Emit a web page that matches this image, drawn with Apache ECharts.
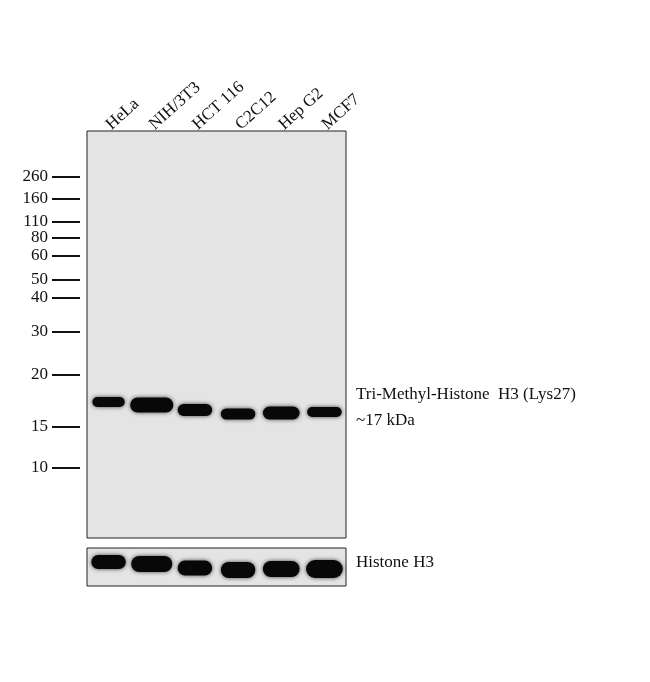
<!DOCTYPE html>
<html>
<head>
<meta charset="utf-8">
<title>Tri-Methyl-Histone H3 (Lys27)</title>
<script src="https://cdn.jsdelivr.net/npm/echarts@6/dist/echarts.min.js"></script>
<style>
  body { margin: 0; background: #fff; }
  #blot { width: 650px; height: 682px; }
</style>
</head>
<body>
<div id="blot"></div>
<script>
// lanes and marker ladder
var lanes = ['HeLa', 'NIH/3T3', 'HCT 116', 'C2C12', 'Hep G2', 'MCF7'];
var markerLabels = ['260', '160', '110', '80', '60', '50', '40', '30', '20', '15', '10'];
// migration distance from top of membrane (panel units)
var markerPos = [46, 68, 91, 107, 125, 149, 167, 201, 244, 296, 337];

// main bands: migration position, width, thickness
var bandPos = [271, 274, 279, 283, 282, 281];
var bandWidth = [0.75, 1.0, 0.8, 0.8, 0.85, 0.8];
var bandThick = [10, 15, 12, 11, 13, 10];

// loading control (Histone H3)
var h3Pos = [14, 16, 20, 22, 21, 21];
var h3Width = [0.8, 0.95, 0.8, 0.8, 0.85, 0.85];
var h3Thick = [14, 16, 15, 16, 16, 18];

var serif = 'Liberation Serif';
var chart = echarts.init(document.getElementById('blot'));

function bandData(pos, w, t) {
  return lanes.map(function (n, i) { return [i, pos[i], w[i], t[i]]; });
}

function drawBand(params, api) {
  var c = api.coord([api.value(0), api.value(1)]);
  var unit = api.size([1, 0])[0];
  var w = api.value(2) * unit;
  var h = api.value(3);
  return {
    type: 'rect',
    shape: { x: c[0] - w / 2, y: c[1] - h / 2, width: w, height: h, r: h / 2 },
    style: { fill: '#080808', shadowBlur: 4, shadowColor: 'rgba(0,0,0,0.7)' }
  };
}

chart.setOption({
  animation: false,
  backgroundColor: '#fff',
  grid: [
    { left: 87, top: 131, width: 259, height: 407, show: true, backgroundColor: '#e4e4e4', borderColor: '#222', borderWidth: 1 },
    { left: 87, top: 548, width: 259, height: 38, show: true, backgroundColor: '#e4e4e4', borderColor: '#222', borderWidth: 1 }
  ],
  xAxis: [
    { type: 'category', data: lanes, gridIndex: 0, position: 'top',
      axisLine: { show: false }, axisTick: { show: false },
      axisLabel: { rotate: 42, fontFamily: serif, fontSize: 17, color: '#111', margin: 4 } },
    { type: 'category', data: lanes, gridIndex: 1, show: false }
  ],
  yAxis: [
    { type: 'value', gridIndex: 0, min: 0, max: 407, inverse: true, show: false },
    { type: 'value', gridIndex: 1, min: 0, max: 38, inverse: true, show: false }
  ],
  graphic: [
    { type: 'text', left: 356, top: 386, style: { text: 'Tri-Methyl-Histone  H3 (Lys27)', font: '17px "Liberation Serif"', fill: '#111' } },
    { type: 'text', left: 356, top: 412, style: { text: '~17 kDa', font: '17px "Liberation Serif"', fill: '#111' } },
    { type: 'text', left: 356, top: 554, style: { text: 'Histone H3', font: '17px "Liberation Serif"', fill: '#111' } }
  ],
  series: [
    {
      type: 'custom', xAxisIndex: 0, yAxisIndex: 0, clip: false,
      data: markerLabels.map(function (m, i) { return [0, markerPos[i], m]; }),
      renderItem: function (params, api) {
        var c = api.coord([0, api.value(1)]);
        var left = params.coordSys.x;
        return {
          type: 'group',
          children: [
            { type: 'line', shape: { x1: left - 35, y1: c[1], x2: left - 7, y2: c[1] }, style: { stroke: '#111', lineWidth: 2 } },
            { type: 'text', style: { text: api.value(2), x: left - 39, y: c[1], align: 'right', verticalAlign: 'middle', font: '17px "Liberation Serif"', fill: '#111' } }
          ]
        };
      }
    },
    { type: 'custom', xAxisIndex: 0, yAxisIndex: 0, data: bandData(bandPos, bandWidth, bandThick), renderItem: drawBand },
    { type: 'custom', xAxisIndex: 1, yAxisIndex: 1, data: bandData(h3Pos, h3Width, h3Thick), renderItem: drawBand }
  ]
});
</script>
</body>
</html>
